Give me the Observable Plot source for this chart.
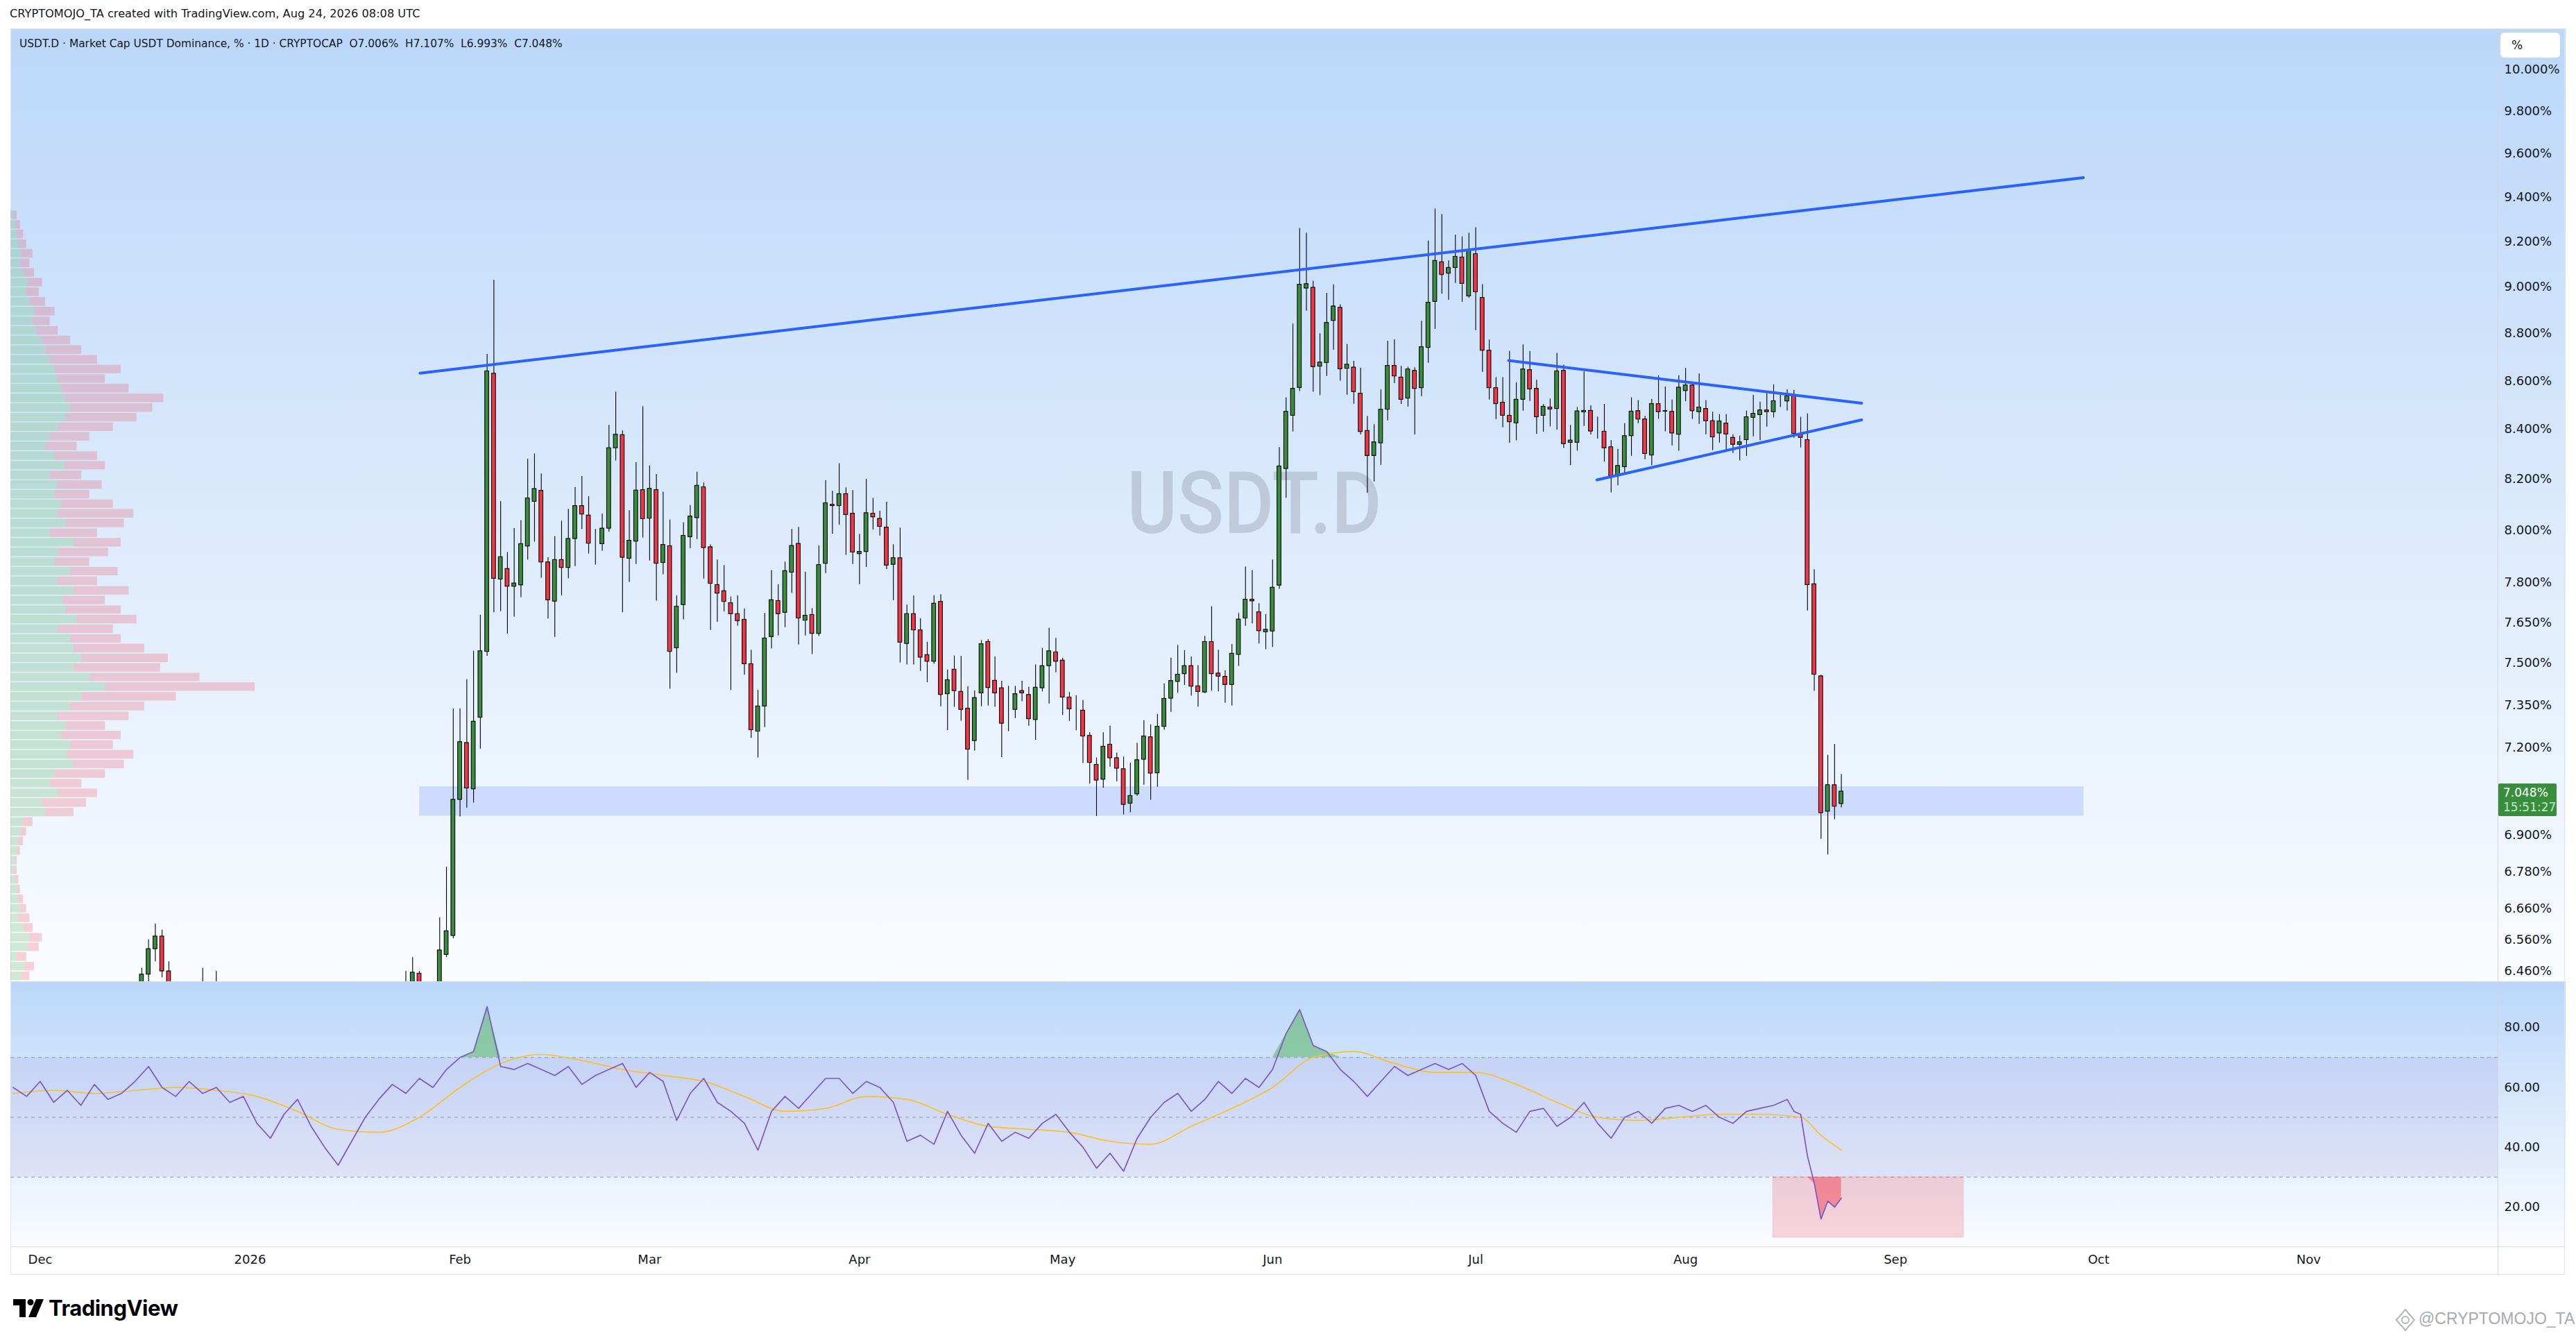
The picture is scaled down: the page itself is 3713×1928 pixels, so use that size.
<!DOCTYPE html>
<html><head><meta charset="utf-8">
<script src="https://cdn.jsdelivr.net/npm/d3@7"></script>
<script src="https://cdn.jsdelivr.net/npm/@observablehq/plot@0.6"></script>
<style>
html,body{margin:0;padding:0;background:#fff;}
#root{position:relative;width:3713px;height:1928px;overflow:hidden;font-family:"DejaVu Sans",sans-serif;color:#131722;}
.abs{position:absolute;}
.grad{background:linear-gradient(to bottom, rgb(187,215,249), rgb(250,252,255));}
.abs svg{display:block;}
</style></head><body><div id="root">
<div class="abs" style="left:14px;top:10px;font-size:16.2px;white-space:nowrap;">CRYPTOMOJO_TA created with TradingView.com, Aug 24, 2026 08:08 UTC</div>
<div class="abs grad" style="left:15px;top:41px;width:3683px;height:1373px;"></div>
<div class="abs" style="left:15px;top:1414px;width:3683px;height:1px;background:#d6dae3;"></div>
<div class="abs grad" style="left:15px;top:1415px;width:3683px;height:381px;"></div>
<div class="abs" style="left:15px;top:1796px;width:3683px;height:1px;background:#dcdfe8;"></div>
<div class="abs" style="left:15px;top:41px;width:3682px;height:1796px;border:1px solid #e0e3eb;box-sizing:border-box;"></div>
<div class="abs" style="left:3600px;top:41px;width:1px;height:1797px;background:#d1d4dc;"></div>
<div id="vp" class="abs" style="left:15px;top:41px;"></div>
<div id="main" class="abs" style="left:15px;top:41px;"></div>
<div id="rsi" class="abs" style="left:15px;top:1415px;"></div>
<div class="abs" style="left:28px;top:54px;font-size:15.4px;white-space:nowrap;">USDT.D · Market Cap USDT Dominance, % · 1D · CRYPTOCAP&nbsp;&nbsp;O7.006%&nbsp;&nbsp;H7.107%&nbsp;&nbsp;L6.993%&nbsp;&nbsp;C7.048%</div>
<div class="abs" style="left:3604px;top:47px;width:86px;height:36px;background:#fff;border-radius:6px;font-size:17px;line-height:36px;padding-left:16px;box-sizing:border-box;">%</div>
<div id="lastLabel" class="abs" style="left:3601px;width:84px;height:47px;background:#388e3c;border-radius:2px;color:#fff;font-size:17px;line-height:21px;padding:3px 0 0 7px;box-sizing:border-box;"><div>7.048%</div><div style="color:#c8e6c9;">15:51:27</div></div>
<svg class="abs" style="left:19px;top:1872px;" width="46" height="26" viewBox="0 0 46 26"><rect x="0" y="0" width="18" height="9" fill="#000"/><rect x="9" y="0" width="9" height="26" fill="#000"/><circle cx="25" cy="4.5" r="4.5" fill="#000"/><polygon points="33,0 44,0 33,26 22,26" fill="#000"/></svg>
<div class="abs" style="left:70px;top:1866px;font-family:Inter,Lato,sans-serif;font-weight:700;font-size:31px;letter-spacing:-0.5px;color:#000;">TradingView</div>
<svg class="abs" style="left:3452px;top:1886px;" width="30" height="32" viewBox="0 0 30 32"><polygon points="15,1 28,16 15,31 2,16" fill="none" stroke="#b2b5be" stroke-width="2"/><circle cx="15" cy="16" r="5" fill="none" stroke="#b2b5be" stroke-width="2"/></svg>
<div class="abs" style="left:3486px;top:1887px;font-family:'Liberation Sans',sans-serif;font-size:23px;color:#a6a9b2;white-space:nowrap;">@CRYPTOMOJO_TA</div>
</div>
<script>
// ---------- DATA ----------
// Daily candles: date, open, high, low, close (USDT.D, %)
const candles = [
["2025-12-16",6.40,6.47,6.37,6.45],["2025-12-17",6.45,6.56,6.42,6.53],["2025-12-18",6.53,6.61,6.49,6.57],
["2025-12-19",6.57,6.59,6.44,6.46],["2025-12-20",6.46,6.49,6.36,6.39],["2025-12-25",6.39,6.47,6.35,6.41],
["2025-12-27",6.40,6.46,6.36,6.38],["2026-01-24",6.38,6.46,6.35,6.40],
["2026-01-25",6.400,6.503,6.380,6.456],["2026-01-26",6.453,6.460,6.360,6.390],["2026-01-27",6.390,6.420,6.330,6.360],
["2026-01-28",6.360,6.410,6.320,6.380],["2026-01-29",6.380,6.630,6.370,6.526],["2026-01-30",6.512,6.795,6.504,6.587],
["2026-01-31",6.572,7.336,6.563,7.020],["2026-02-01",7.020,7.336,6.962,7.219],["2026-02-02",7.216,7.440,6.992,7.059],
["2026-02-03",7.056,7.544,7.009,7.291],["2026-02-04",7.305,7.677,7.195,7.544],["2026-02-05",7.542,8.711,7.526,8.640],
["2026-02-06",8.630,9.030,7.686,7.814],["2026-02-07",7.811,8.111,7.691,7.896],["2026-02-08",7.851,7.914,7.607,7.784],
["2026-02-09",7.784,8.006,7.670,7.796],["2026-02-10",7.789,8.037,7.743,7.946],["2026-02-11",7.937,8.280,7.885,8.124],
["2026-02-12",8.111,8.301,7.954,8.161],["2026-02-13",8.154,8.221,7.816,7.876],["2026-02-14",7.876,7.894,7.663,7.733],
["2026-02-15",7.728,7.975,7.595,7.885],["2026-02-16",7.885,8.035,7.749,7.855],["2026-02-17",7.855,8.081,7.814,7.966],
["2026-02-18",7.966,8.167,7.860,8.094],["2026-02-19",8.094,8.211,8.003,8.061],["2026-02-20",8.057,8.131,7.908,7.948],
["2026-02-21",7.950,8.003,7.866,7.950],["2026-02-22",7.946,8.063,7.919,8.006],["2026-02-23",8.006,8.417,7.993,8.324],
["2026-02-24",8.324,8.554,8.273,8.379],["2026-02-25",8.377,8.394,7.686,7.894],["2026-02-26",7.890,8.076,7.800,7.959],
["2026-02-27",7.956,8.266,7.868,8.155],["2026-02-28",8.157,8.494,7.969,8.043],["2026-03-01",8.045,8.253,7.881,8.162],
["2026-03-02",8.157,8.219,7.730,7.871],["2026-03-03",7.874,8.149,7.829,7.943],["2026-03-04",7.938,8.039,7.407,7.542],
["2026-03-05",7.555,7.749,7.464,7.709],["2026-03-06",7.715,8.029,7.660,7.978],["2026-03-07",7.973,8.096,7.929,8.053],
["2026-03-08",8.047,8.228,7.964,8.174],["2026-03-09",8.168,8.186,7.813,7.931],["2026-03-10",7.934,7.943,7.621,7.795],
["2026-03-11",7.790,7.885,7.651,7.758],["2026-03-12",7.767,7.864,7.690,7.727],["2026-03-13",7.722,7.745,7.402,7.681],
["2026-03-14",7.681,7.749,7.637,7.655],["2026-03-15",7.660,7.700,7.457,7.497],["2026-03-16",7.497,7.548,7.233,7.261],
["2026-03-17",7.256,7.403,7.164,7.345],["2026-03-18",7.345,7.684,7.270,7.591],["2026-03-19",7.596,7.845,7.553,7.733],
["2026-03-20",7.730,7.791,7.600,7.681],["2026-03-21",7.686,7.877,7.631,7.843],["2026-03-22",7.837,8.003,7.759,7.939],
["2026-03-23",7.947,8.011,7.567,7.665],["2026-03-24",7.657,7.839,7.600,7.675],["2026-03-25",7.678,7.702,7.532,7.608],
["2026-03-26",7.608,7.939,7.598,7.866],["2026-03-27",7.871,8.194,7.834,8.105],["2026-03-28",8.099,8.152,7.985,8.094],
["2026-03-29",8.094,8.262,8.020,8.141],["2026-03-30",8.141,8.166,7.903,8.059],["2026-03-31",8.064,8.155,7.868,7.914],
["2026-04-01",7.908,7.984,7.792,7.916],["2026-04-02",7.916,8.200,7.857,8.066],["2026-04-03",8.064,8.124,8.001,8.050],
["2026-04-04",8.044,8.074,7.977,8.013],["2026-04-05",8.010,8.109,7.849,7.864],["2026-04-06",7.867,7.944,7.732,7.892],
["2026-04-07",7.892,8.008,7.501,7.576],["2026-04-08",7.571,7.715,7.494,7.681],["2026-04-09",7.681,7.749,7.494,7.621],
["2026-04-10",7.621,7.664,7.471,7.521],["2026-04-11",7.530,7.577,7.430,7.506],["2026-04-12",7.506,7.750,7.497,7.720],
["2026-04-13",7.727,7.754,7.344,7.386],["2026-04-14",7.389,7.476,7.260,7.439],["2026-04-15",7.477,7.527,7.342,7.400],
["2026-04-16",7.397,7.525,7.293,7.333],["2026-04-17",7.337,7.415,7.087,7.193],["2026-04-18",7.223,7.401,7.188,7.375],
["2026-04-19",7.392,7.583,7.344,7.570],["2026-04-20",7.578,7.587,7.347,7.411],["2026-04-21",7.437,7.523,7.342,7.392],
["2026-04-22",7.410,7.435,7.165,7.284],["2026-04-23",7.300,7.417,7.256,7.300],["2026-04-24",7.333,7.417,7.302,7.389],
["2026-04-25",7.400,7.435,7.362,7.392],["2026-04-26",7.386,7.414,7.275,7.300],["2026-04-27",7.297,7.494,7.226,7.412],
["2026-04-28",7.410,7.555,7.397,7.490],["2026-04-29",7.490,7.629,7.354,7.544],["2026-04-30",7.540,7.591,7.466,7.506],
["2026-05-01",7.510,7.518,7.313,7.377],["2026-05-02",7.377,7.395,7.292,7.335],["2026-05-03",7.332,7.383,7.259,7.332],
["2026-05-04",7.330,7.366,7.145,7.239],["2026-05-05",7.241,7.252,7.074,7.147],["2026-05-06",7.140,7.164,6.964,7.086],
["2026-05-07",7.089,7.252,7.060,7.203],["2026-05-08",7.210,7.276,7.132,7.163],["2026-05-09",7.163,7.181,7.082,7.127],
["2026-05-10",7.125,7.167,6.969,7.003],["2026-05-11",7.007,7.146,6.976,7.033],["2026-05-12",7.039,7.215,7.032,7.156],
["2026-05-13",7.158,7.295,7.070,7.239],["2026-05-14",7.236,7.280,7.019,7.110],["2026-05-15",7.111,7.317,7.063,7.273],
["2026-05-16",7.273,7.426,7.261,7.372],["2026-05-17",7.373,7.519,7.324,7.436],["2026-05-18",7.433,7.566,7.392,7.459],
["2026-05-19",7.461,7.547,7.420,7.490],["2026-05-20",7.490,7.523,7.382,7.416],["2026-05-21",7.417,7.492,7.343,7.397],
["2026-05-22",7.395,7.599,7.391,7.578],["2026-05-23",7.578,7.709,7.400,7.461],["2026-05-24",7.463,7.548,7.397,7.452],
["2026-05-25",7.451,7.473,7.356,7.422],["2026-05-26",7.422,7.569,7.347,7.535],["2026-05-27",7.531,7.684,7.489,7.661],
["2026-05-28",7.665,7.859,7.636,7.735],["2026-05-29",7.735,7.845,7.645,7.729],["2026-05-30",7.688,7.720,7.571,7.618],
["2026-05-31",7.614,7.679,7.550,7.623],["2026-06-01",7.617,7.885,7.558,7.780],["2026-06-02",7.788,8.327,7.774,8.251],
["2026-06-03",8.241,8.530,8.125,8.472],["2026-06-04",8.456,8.841,8.390,8.567],["2026-06-05",8.571,9.260,8.556,9.010],
["2026-06-06",8.994,9.238,8.896,9.013],["2026-06-07",8.997,9.026,8.554,8.658],["2026-06-08",8.660,8.799,8.539,8.677],
["2026-06-09",8.675,8.973,8.619,8.845],["2026-06-10",8.854,9.010,8.729,8.916],["2026-06-11",8.910,8.923,8.599,8.649],
["2026-06-12",8.651,8.753,8.540,8.668],["2026-06-13",8.656,8.682,8.504,8.554],["2026-06-14",8.547,8.654,8.378,8.390],
["2026-06-15",8.394,8.453,8.145,8.293],["2026-06-16",8.293,8.420,8.189,8.348],["2026-06-17",8.344,8.563,8.256,8.481],
["2026-06-18",8.481,8.767,8.435,8.663],["2026-06-19",8.663,8.773,8.589,8.619],["2026-06-20",8.614,8.661,8.503,8.522],
["2026-06-21",8.527,8.658,8.492,8.648],["2026-06-22",8.642,8.655,8.378,8.567],["2026-06-23",8.570,8.852,8.535,8.742],
["2026-06-24",8.739,9.203,8.674,8.932],["2026-06-25",8.936,9.347,8.818,9.115],["2026-06-26",9.109,9.322,8.970,9.053],
["2026-06-27",9.059,9.115,8.943,9.084],["2026-06-28",9.084,9.229,9.016,9.133],["2026-06-29",9.130,9.222,8.934,9.014],
["2026-06-30",8.960,9.238,8.952,9.160],["2026-07-01",9.145,9.263,8.812,8.978],["2026-07-02",8.953,9.011,8.636,8.727],
["2026-07-03",8.727,8.772,8.521,8.570],["2026-07-04",8.570,8.614,8.440,8.504],["2026-07-05",8.510,8.614,8.407,8.456],
["2026-07-06",8.456,8.724,8.344,8.430],["2026-07-07",8.425,8.593,8.354,8.522],["2026-07-08",8.522,8.752,8.475,8.648],
["2026-07-09",8.645,8.724,8.515,8.565],["2026-07-10",8.567,8.603,8.381,8.450],["2026-07-11",8.456,8.502,8.389,8.493],
["2026-07-12",8.490,8.525,8.411,8.482],["2026-07-13",8.484,8.716,8.398,8.640],["2026-07-14",8.642,8.666,8.323,8.341],
["2026-07-15",8.346,8.417,8.254,8.355],["2026-07-16",8.346,8.490,8.312,8.474],["2026-07-17",8.470,8.638,8.413,8.476],
["2026-07-18",8.476,8.497,8.378,8.392],["2026-07-19",8.392,8.451,8.361,8.392],["2026-07-20",8.391,8.503,8.268,8.324],
["2026-07-21",8.328,8.355,8.146,8.212],["2026-07-22",8.212,8.320,8.174,8.253],["2026-07-23",8.248,8.424,8.220,8.373],
["2026-07-24",8.373,8.530,8.292,8.473],["2026-07-25",8.475,8.519,8.424,8.441],["2026-07-26",8.441,8.454,8.278,8.301],
["2026-07-27",8.295,8.524,8.254,8.504],["2026-07-28",8.504,8.622,8.442,8.471],["2026-07-29",8.473,8.575,8.391,8.475],
["2026-07-30",8.472,8.521,8.334,8.384],["2026-07-31",8.379,8.622,8.312,8.572],["2026-08-01",8.558,8.653,8.514,8.581],
["2026-08-02",8.581,8.589,8.441,8.475],["2026-08-03",8.471,8.629,8.421,8.490],["2026-08-04",8.484,8.519,8.379,8.434],
["2026-08-05",8.434,8.471,8.315,8.368],["2026-08-06",8.384,8.461,8.345,8.433],["2026-08-07",8.424,8.461,8.316,8.380],
["2026-08-08",8.366,8.379,8.303,8.338],["2026-08-09",8.338,8.373,8.273,8.348],["2026-08-10",8.357,8.475,8.291,8.450],
["2026-08-11",8.448,8.540,8.370,8.464],["2026-08-12",8.459,8.512,8.355,8.478],["2026-08-13",8.478,8.552,8.410,8.471],
["2026-08-14",8.471,8.584,8.447,8.516],["2026-08-15",8.516,8.540,8.490,8.516],["2026-08-16",8.515,8.563,8.475,8.536],
["2026-08-17",8.540,8.561,8.365,8.382],["2026-08-18",8.379,8.450,8.325,8.366],["2026-08-19",8.357,8.464,7.693,7.790],
["2026-08-20",7.793,7.848,7.399,7.459],["2026-08-21",7.453,7.457,6.887,6.975],["2026-08-22",6.980,7.173,6.835,7.070],
["2026-08-23",7.070,7.211,6.953,6.997],["2026-08-24",7.006,7.107,6.993,7.048]
];
const lastClose = 7.048;

// Price axis ticks (log scale)
const priceTicks = [10, 9.8, 9.6, 9.4, 9.2, 9.0, 8.8, 8.6, 8.4, 8.2, 8.0, 7.8, 7.65, 7.5, 7.35, 7.2, 6.9, 6.78, 6.66, 6.56, 6.46];

// Drawings
const channelTop = [["2026-01-26T02:00:00Z", 8.632], ["2026-09-28T18:00:00Z", 9.49]];
const triangleTop = [["2026-07-05T21:00:00Z", 8.685], ["2026-08-27T00:00:00Z", 8.507]];
const triangleBottom = [["2026-07-18T22:00:00Z", 8.197], ["2026-08-27T00:00:00Z", 8.439]];
const supportZone = [["2026-01-26T02:00:00Z", "2026-09-28T18:00:00Z", 6.966, 7.063]];
const rsiBox = [["2026-08-13T22:00:00Z", "2026-09-11T02:00:00Z", 9.8, 30]];

// Visible-range volume profile: row edges (price), up volume, down volume (bottom -> top)
const vpEdges = [6.430,6.460,6.490,6.521,6.551,6.582,6.613,6.644,6.675,6.706,6.737,6.769,6.800,6.832,6.864,6.896,6.928,6.961,6.993,7.026,
7.059,7.092,7.125,7.158,7.192,7.226,7.259,7.293,7.327,7.362,7.397,7.432,7.466,7.501,7.536,7.572,7.607,7.643,7.679,7.714,
7.750,7.786,7.823,7.859,7.896,7.933,7.970,8.007,8.045,8.083,8.120,8.158,8.196,8.235,8.273,8.312,8.351,8.390,8.429,8.468,
8.508,8.548,8.588,8.628,8.668,8.709,8.750,8.791,8.832,8.873,8.915,8.957,8.999,9.041,9.083,9.126,9.168,9.211,9.254,9.297,9.341];
const vpUp = [7,9,4,11,12,8,5,6,5,4, 3,2,3,4,5,6,8,22,20,30, 25,28,40,36,38,32,35,30,38,45, 60,50,40,45,40,38,30,42,35,33,
40,30,38,28,30,40,25,35,30,32, 28,30,25,35,28,22,25,30,35,38, 35,32,30,28,25,22,20,16,14,15, 12,10,11,8,6,7,5,4,3,2];
const vpDown = [5,6,6,7,8,6,7,4,3,2, 2,2,1,2,3,4,6,18,28,25, 20,32,32,42,27,38,25,45,47,60, 95,70,55,55,45,32,35,38,35,27,
35,25,30,22,32,30,30,37,48,33, 22,28,20,25,27,20,25,35,45,52, 62,43,30,42,30,23,18,14,11,13, 10,8,9,7,6,7,5,4,3,2];

// RSI (14) and its moving average
const rsiPoints = [
["2025-11-27",60],["2025-11-29",57],["2025-12-01",62],["2025-12-03",55],["2025-12-05",59],["2025-12-07",54],["2025-12-09",61],
["2025-12-11",56],["2025-12-13",58],["2025-12-15",62],["2025-12-17",67],["2025-12-19",60],["2025-12-21",57],["2025-12-23",62],
["2025-12-25",58],["2025-12-27",60],["2025-12-29",55],["2025-12-31",57],["2026-01-02",48],["2026-01-04",43],["2026-01-06",51],
["2026-01-08",56],["2026-01-10",47],["2026-01-12",40],["2026-01-14",34],["2026-01-16",42],["2026-01-18",50],["2026-01-20",56],
["2026-01-22",61],["2026-01-24",58],["2026-01-26",63],["2026-01-28",60],["2026-01-30",66],["2026-02-01",70],["2026-02-03",72],
["2026-02-05",87],["2026-02-07",67],["2026-02-09",66],["2026-02-11",68],["2026-02-13",66],["2026-02-15",64],["2026-02-17",67],
["2026-02-19",61],["2026-02-21",64],["2026-02-23",66],["2026-02-25",68],["2026-02-27",60],["2026-03-01",65],["2026-03-03",62],
["2026-03-05",49],["2026-03-07",58],["2026-03-09",63],["2026-03-11",55],["2026-03-13",52],["2026-03-15",48],["2026-03-17",39],
["2026-03-19",52],["2026-03-21",57],["2026-03-23",53],["2026-03-25",58],["2026-03-27",63],["2026-03-29",63],["2026-03-31",58],
["2026-04-02",62],["2026-04-04",60],["2026-04-06",55],["2026-04-08",42],["2026-04-10",44],["2026-04-12",41],["2026-04-14",52],
["2026-04-16",44],["2026-04-18",38],["2026-04-20",48],["2026-04-22",42],["2026-04-24",45],["2026-04-26",43],["2026-04-28",48],
["2026-04-30",51],["2026-05-02",45],["2026-05-04",40],["2026-05-06",33],["2026-05-08",38],["2026-05-10",32],["2026-05-12",43],
["2026-05-14",50],["2026-05-16",55],["2026-05-18",58],["2026-05-20",52],["2026-05-22",56],["2026-05-24",62],["2026-05-26",58],
["2026-05-28",63],["2026-05-30",60],["2026-06-01",66],["2026-06-03",78],["2026-06-05",86],["2026-06-07",74],["2026-06-09",72],
["2026-06-11",66],["2026-06-13",62],["2026-06-15",57],["2026-06-17",62],["2026-06-19",67],["2026-06-21",64],["2026-06-23",66],
["2026-06-25",68],["2026-06-27",66],["2026-06-29",68],["2026-07-01",64],["2026-07-03",52],["2026-07-05",48],["2026-07-07",45],
["2026-07-09",52],["2026-07-11",53],["2026-07-13",47],["2026-07-15",50],["2026-07-17",55],["2026-07-19",48],["2026-07-21",43],
["2026-07-23",50],["2026-07-25",52],["2026-07-27",48],["2026-07-29",53],["2026-07-31",54],["2026-08-02",52],["2026-08-04",54],
["2026-08-06",50],["2026-08-08",48],["2026-08-10",52],["2026-08-12",53],["2026-08-14",54],["2026-08-16",56],["2026-08-17",52],
["2026-08-18",51],["2026-08-19",37],["2026-08-20",28],["2026-08-21",16],["2026-08-22",22],["2026-08-23",20],["2026-08-24",23]
];
const rsiMaPoints = [
["2025-11-27",58],["2025-12-03",59],["2025-12-09",58],["2025-12-15",59],["2025-12-21",60],["2025-12-27",59],["2026-01-02",57],
["2026-01-08",52],["2026-01-14",46],["2026-01-20",45],["2026-01-26",50],["2026-02-01",60],["2026-02-07",68],["2026-02-13",71],
["2026-02-19",69],["2026-02-25",66],["2026-03-03",64],["2026-03-09",62],["2026-03-15",57],["2026-03-21",52],["2026-03-27",53],
["2026-04-02",57],["2026-04-08",56],["2026-04-14",51],["2026-04-20",47],["2026-04-26",46],["2026-05-02",45],["2026-05-08",42],
["2026-05-14",41],["2026-05-20",47],["2026-05-26",53],["2026-06-01",60],["2026-06-07",70],["2026-06-13",72],["2026-06-19",68],
["2026-06-25",65],["2026-07-01",65],["2026-07-07",61],["2026-07-13",55],["2026-07-19",50],["2026-07-25",49],["2026-07-31",50],
["2026-08-06",51],["2026-08-12",51],["2026-08-18",50],["2026-08-21",44],["2026-08-24",39]
];
const rsiLevels = [70, 50, 30];
const rsiTicks = [80, 60, 40, 20];

// Time axis
const monthTicks = ["2025-12-01","2026-01-01","2026-02-01","2026-03-01","2026-04-01","2026-05-01","2026-06-01","2026-07-01","2026-08-01","2026-09-01","2026-10-01","2026-11-01"];
const monthLabels = ["Dec","2026","Feb","Mar","Apr","May","Jun","Jul","Aug","Sep","Oct","Nov"];

// ---------- BUILD ----------
const T = s => new Date(s.length === 10 ? s + "T00:00:00Z" : s);
const DAY = 864e5;
const xDomain = [T("2025-11-26T15:36:00Z"), T("2026-11-28T23:17:00Z")];
const yDomain = [6.4277, 10.1996];
const W = 3683, MR = 98;
const GREEN = "#388e3c", RED = "#f23645", BLUE = "#2962ff";
const style = {background: "transparent", fontFamily: "DejaVu Sans, sans-serif", fontSize: "18px", color: "#131722", overflow: "visible"};

const bars = candles.map(([d,o,h,l,c]) => ({date: T(d), open: o, high: h, low: l, close: c, color: c >= o ? GREEN : RED}));
const toLine = arr => arr.map(([d,p]) => ({date: T(d), price: p}));
const zoneRows = supportZone.map(([a,b,lo,hi]) => ({start: T(a), end: T(b), lo, hi}));
const vpRows = vpUp.map((u,i) => ({lo: vpEdges[i], hi: vpEdges[i+1], up: u, down: vpDown[i]}));
const half = 0.29 * DAY;

const vpPlot = Plot.plot({
  width: W, height: 1373, marginLeft: 0, marginRight: MR, marginTop: 0, marginBottom: 0, style,
  x: {domain: [0, 155], range: [0, 352], axis: null},
  y: {type: "log", domain: yDomain, axis: null},
  marks: [
    Plot.rect(vpRows, {x1: () => 0, x2: "up", y1: "lo", y2: "hi", fill: "#4caf50", fillOpacity: 0.24, insetTop: 0.8, insetBottom: 0.8}),
    Plot.rect(vpRows, {x1: "up", x2: d => d.up + d.down, y1: "lo", y2: "hi", fill: RED, fillOpacity: 0.22, insetTop: 0.8, insetBottom: 0.8})
  ]
});
document.getElementById("vp").append(vpPlot);

const main = Plot.plot({
  width: W, height: 1373, marginLeft: 0, marginRight: MR, marginTop: 0, marginBottom: 0, style,
  x: {type: "utc", domain: xDomain, axis: null},
  y: {type: "log", domain: yDomain, ticks: priceTicks, tickFormat: d => d.toFixed(3) + "%", axis: "right", tickSize: 0, tickPadding: 9, label: null},
  marks: [
    Plot.text(["USDT.D"], {frameAnchor: "middle", text: d => d, fontSize: 124, fontFamily: "Roboto", fontWeight: 500, fill: "#787b86", fillOpacity: 0.28}),
    Plot.rect(zoneRows, {x1: "start", x2: "end", y1: "lo", y2: "hi", fill: BLUE, fillOpacity: 0.17, stroke: BLUE, strokeOpacity: 0.12, clip: true}),
    Plot.ruleX(bars, {x: "date", y1: "low", y2: "high", stroke: "#000", strokeWidth: 1.1, clip: true}),
    Plot.rect(bars, {x1: d => new Date(+d.date - half), x2: d => new Date(+d.date + half), y1: "open", y2: "close", fill: "color", stroke: "#000", strokeWidth: 1.1, clip: true}),
    Plot.line(toLine(channelTop), {x: "date", y: "price", stroke: BLUE, strokeWidth: 4, clip: true}),
    Plot.line(toLine(triangleTop), {x: "date", y: "price", stroke: BLUE, strokeWidth: 4, clip: true}),
    Plot.line(toLine(triangleBottom), {x: "date", y: "price", stroke: BLUE, strokeWidth: 4, clip: true})
  ]
});
document.getElementById("main").append(main);
for (const t of main.querySelectorAll("text")) {
  if (t.textContent === "USDT.D") { t.setAttribute("textLength", 367); t.setAttribute("lengthAdjust", "spacingAndGlyphs"); }
}
const yPix = main.scale("y").apply(lastClose);
document.getElementById("lastLabel").style.top = (41 + yPix - 11) + "px";

const rsiData = rsiPoints.map(([d,v]) => ({date: T(d), v}));
const maData = rsiMaPoints.map(([d,v]) => ({date: T(d), v}));
const boxRows = rsiBox.map(([a,b,lo,hi]) => ({start: T(a), end: T(b), lo, hi}));
const labelMap = new Map(monthTicks.map((m,i) => [+T(m), monthLabels[i]]));

const rsiPlot = Plot.plot({
  width: W, height: 423, marginLeft: 0, marginRight: MR, marginTop: 0, marginBottom: 42, style,
  x: {type: "utc", domain: xDomain, ticks: monthTicks.map(T), tickFormat: d => labelMap.get(+d), tickSize: 0, tickPadding: 12, label: null},
  y: {domain: [6.75, 95.12], ticks: rsiTicks, tickFormat: d => d.toFixed(2), axis: "right", tickSize: 0, tickPadding: 9, label: null},
  marks: [
    Plot.rect([0], {y1: () => 30, y2: () => 70, fill: "#7e57c2", fillOpacity: 0.1}),
    Plot.ruleY(rsiLevels, {stroke: "#787b86", strokeOpacity: 0.7, strokeDasharray: "5,5", strokeWidth: 1}),
    Plot.rect(boxRows, {x1: "start", x2: "end", y1: "lo", y2: "hi", fill: RED, fillOpacity: 0.2, stroke: RED, strokeOpacity: 0.15}),
    Plot.areaY(rsiData, {x: "date", y1: () => 70, y2: d => Math.max(70, d.v), fill: "#4caf50", fillOpacity: 0.5}),
    Plot.areaY(rsiData, {x: "date", y1: d => Math.min(30, d.v), y2: () => 30, fill: RED, fillOpacity: 0.45}),
    Plot.line(maData, {x: "date", y: "v", stroke: "#fbc02d", strokeWidth: 1.7, curve: "monotone-x"}),
    Plot.line(rsiData, {x: "date", y: "v", stroke: "#7e57c2", strokeWidth: 1.7})
  ]
});
document.getElementById("rsi").append(rsiPlot);
</script></body></html>
